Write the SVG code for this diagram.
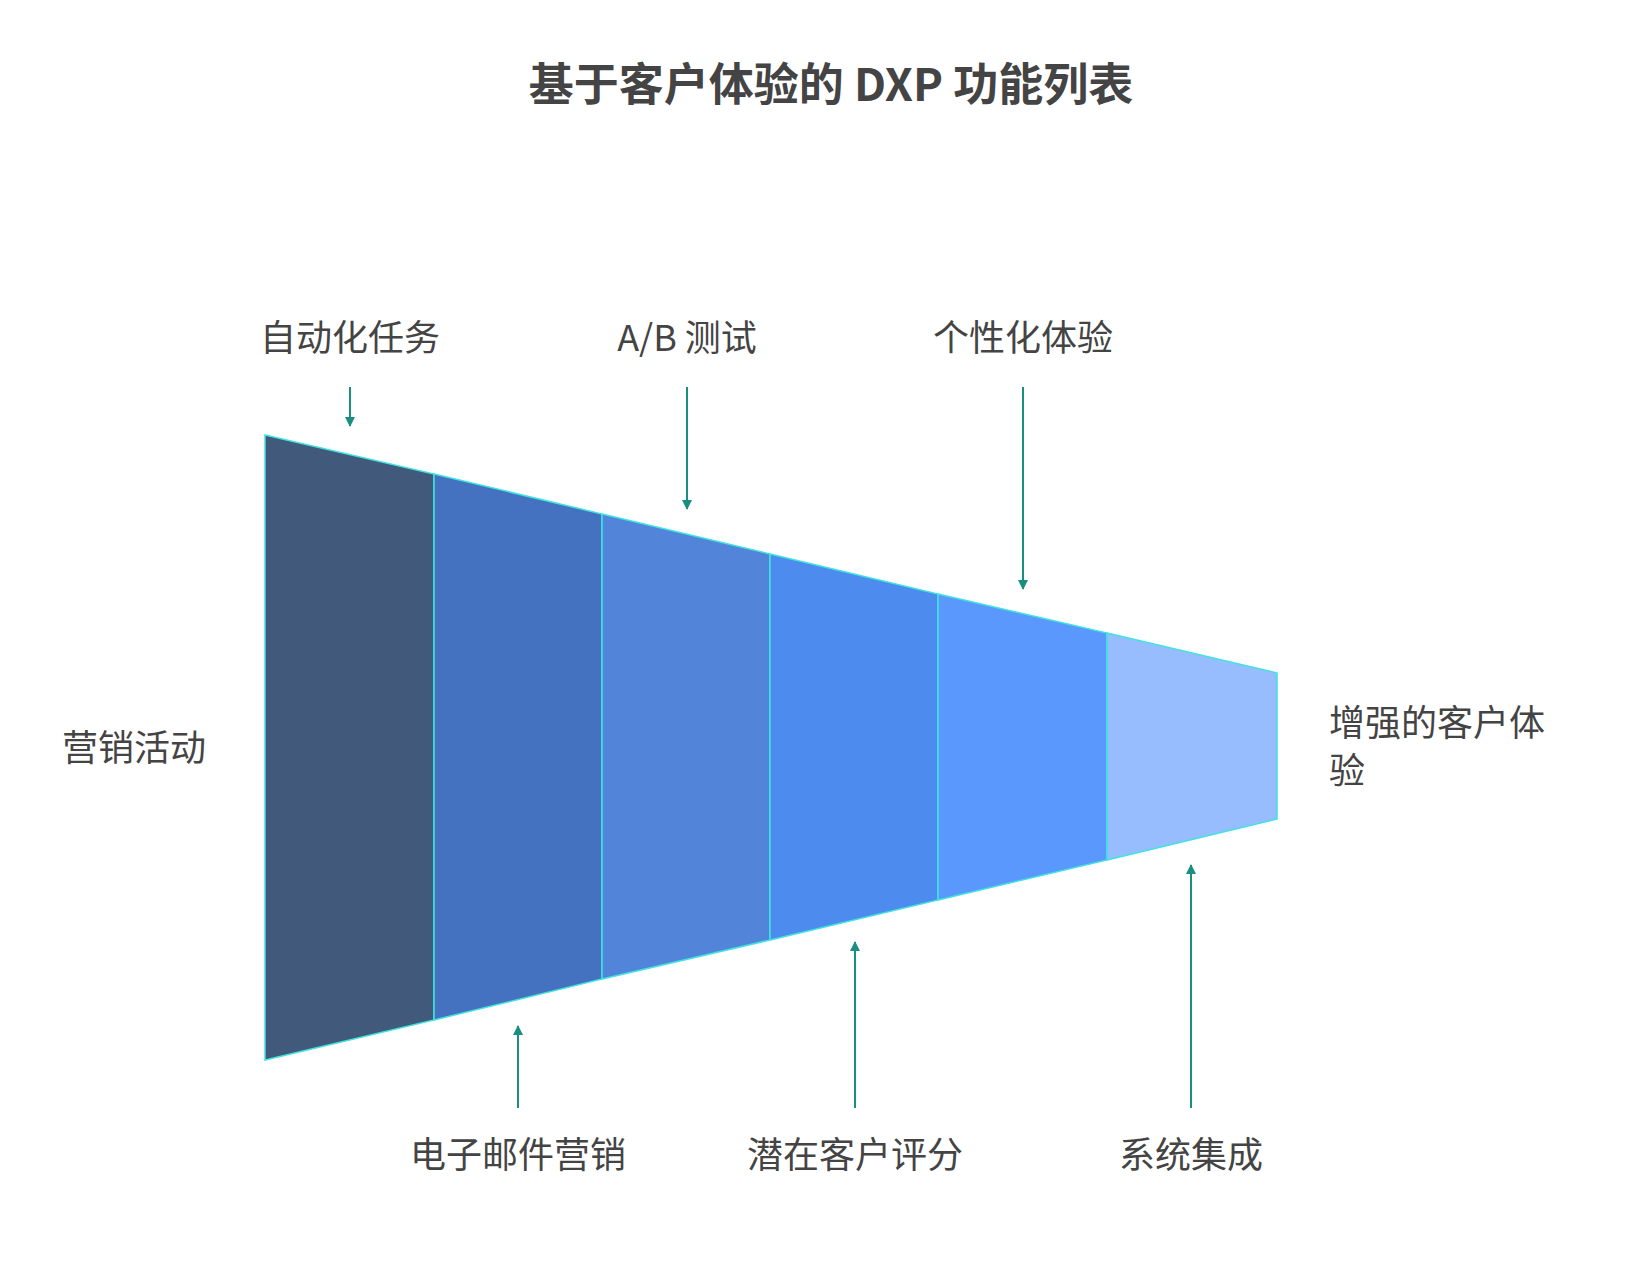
<svg xmlns="http://www.w3.org/2000/svg" width="1634" height="1274" viewBox="0 0 1634 1274">
<style>
text{font-family:"Noto Sans CJK SC","Liberation Sans",sans-serif;fill:#444;font-size:36px}
.t{font-size:45px;font-weight:bold}
.s{stroke:#3fe3e0;stroke-width:1.5}
.a{stroke:#1a8f7f;stroke-width:2;fill:none}
</style>
<defs><marker id="m" viewBox="0 0 10 10" refX="9" refY="5" markerWidth="5" markerHeight="5" orient="auto"><path d="M0,0L10,5L0,10z" fill="#1a8f7f"/></marker></defs>
<rect width="1634" height="1274" fill="#fff"/>
<text class="t" x="831" y="101" text-anchor="middle">基于客户体验的 DXP 功能列表</text>
<g id="s1"><polygon class="s" fill="#415a7c" points="265,435 434,474 434,1020 265,1060"/></g>
<g id="s2"><polygon class="s" fill="#4472c0" points="434,474 602,514 602,979 434,1020"/></g>
<g id="s3"><polygon class="s" fill="#5285d9" points="602,514 770,554 770,940 602,979"/></g>
<g id="s4"><polygon class="s" fill="#4d8bee" points="770,554 938,594 938,900 770,940"/></g>
<g id="s5"><polygon class="s" fill="#5b98fd" points="938,594 1107,633 1107,860 938,900"/></g>
<g id="s6"><polygon class="s" fill="#97bdff" points="1107,633 1277,673 1277,819 1107,860"/></g>
<g id="connectors">
<line class="a" x1="350" y1="387" x2="350" y2="426" marker-end="url(#m)"/>
<line class="a" x1="687" y1="387" x2="687" y2="509" marker-end="url(#m)"/>
<line class="a" x1="1023" y1="387" x2="1023" y2="589" marker-end="url(#m)"/>
<line class="a" x1="518" y1="1108" x2="518" y2="1026" marker-end="url(#m)"/>
<line class="a" x1="855" y1="1108" x2="855" y2="942" marker-end="url(#m)"/>
<line class="a" x1="1191" y1="1108" x2="1191" y2="865" marker-end="url(#m)"/>
</g>
<g id="labels">
<text x="350" y="351" text-anchor="middle">自动化任务</text>
<text x="687" y="351" text-anchor="middle">A/B 测试</text>
<text x="1023" y="351" text-anchor="middle">个性化体验</text>
<text x="134" y="761" text-anchor="middle">营销活动</text>
<text x="1329" y="736">增强的客户体</text>
<text x="1329" y="784">验</text>
<text x="518" y="1168" text-anchor="middle">电子邮件营销</text>
<text x="855" y="1168" text-anchor="middle">潜在客户评分</text>
<text x="1191" y="1168" text-anchor="middle">系统集成</text>
</g>
</svg>
